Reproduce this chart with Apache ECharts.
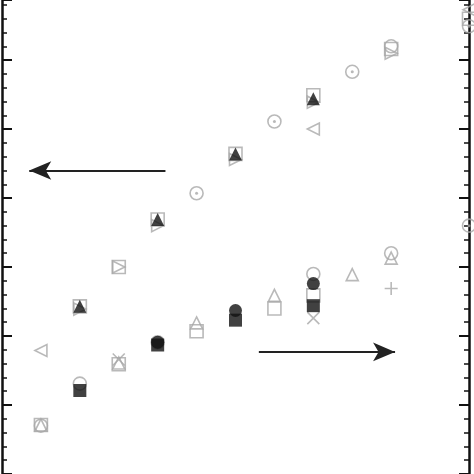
<!DOCTYPE html><html><head><meta charset="utf-8"><script src="https://cdn.jsdelivr.net/npm/echarts@6/dist/echarts.min.js"></script>
<style>html,body{margin:0;padding:0;background:#fff}#c{width:474px;height:474px}</style></head><body><div id="c"></div><script>
const blackTri=[[2,2.43],[4,3.69],[6,4.64],[8,5.44]];
const graySquare=[[2,2.43],[4,3.69],[6,4.64],[8,5.49],[10,6.16],[7,2.4],[8,2.59],[5,2.07],[1,0.71],[3,1.59],[3,3.0],[12,6.6]];
const grayRightTri=[[2,2.39],[4,3.6],[6,4.56],[8,5.39],[10,6.1],[3,3.0]];
const grayDotCircle=[[5,4.07],[7,5.11],[9,5.83],[12,6.49],[12,3.6]];
const grayLeftTri=[[1,1.79],[8,5.0],[12,6.73]];
const grayCircle=[[8,2.9],[10,3.2],[2,1.31],[10,6.2],[1,0.7],[4,1.91]];
const blackCircle=[[8,2.76],[6,2.37],[4,1.91]];
const blackSquare=[[2,1.21],[4,1.87],[6,2.23],[8,2.44]];
const grayUpTri=[[7,2.59],[5,2.19],[9,2.89],[10,3.13],[3,1.61],[1,0.71]];
const grayX=[[8,2.26],[3,1.66]];
const grayPlus=[[10,2.69]];
const arrowLeft=[[4.2,4.4],[0.7,4.4]];
const arrowRight=[[6.6,1.77],[10.1,1.77]];
const G='#a8a8a8';
function hollow(name,data,symbol,rot,size){return {type:'scatter',data,symbol,symbolRotate:rot||0,symbolSize:size||12,itemStyle:{color:'rgba(255,255,255,0)',borderColor:G,borderWidth:1.6},z:2};}
function filled(data,symbol,size){return {type:'scatter',data,symbol,symbolSize:size||12,itemStyle:{color:'#111'},z:5};}
const series=[
 hollow('sq',graySquare,'rect',0,13),
 hollow('rt',grayRightTri,'triangle',-90,12),
 hollow('dc',grayDotCircle,'circle',0,13),
 {type:'scatter',data:grayDotCircle,symbol:'circle',symbolSize:3,itemStyle:{color:G},z:3},
 hollow('lt',grayLeftTri,'triangle',90,12),
 hollow('c',grayCircle,'circle',0,13),
 hollow('ut',grayUpTri,'triangle',0,12),
 {type:'scatter',data:grayX,symbol:'path://M0,0L10,10M10,0L0,10',symbolSize:12,itemStyle:{color:'none',borderColor:G,borderWidth:1.6}},
 {type:'scatter',data:grayPlus,symbol:'path://M5,0L5,10M0,5L10,5',symbolSize:13,itemStyle:{color:'none',borderColor:G,borderWidth:1.6}},
 filled(blackTri,'triangle',13),filled(blackCircle,'circle',13),filled(blackSquare,'rect',13),
 {type:'line',data:[],markLine:{silent:true,symbol:['none','arrow'],symbolSize:[14,22],lineStyle:{color:'#222',width:2,type:'solid'},label:{show:false},
   data:[[{coord:arrowLeft[0]},{coord:arrowLeft[1]}],[{coord:arrowRight[0]},{coord:arrowRight[1]}]]}}
];
const ax={axisLine:{show:true,lineStyle:{color:'#111',width:2.5}},axisTick:{show:true,inside:true,length:10,lineStyle:{color:'#111',width:2}},minorTick:{show:true,splitNumber:5,length:5,lineStyle:{color:'#111',width:1.5}},axisLabel:{show:false},splitLine:{show:false}};
const chart=echarts.init(document.getElementById('c'));
chart.setOption({animation:false,grid:{left:2,right:5,top:0,bottom:-7},
 xAxis:{type:'value',min:0,max:12,show:false},
 yAxis:[Object.assign({type:'value',min:0,max:6.871,interval:1,position:'left'},ax),
        Object.assign({type:'value',min:0,max:6.871,interval:1,position:'right'},ax)],
 series});
</script></body></html>
